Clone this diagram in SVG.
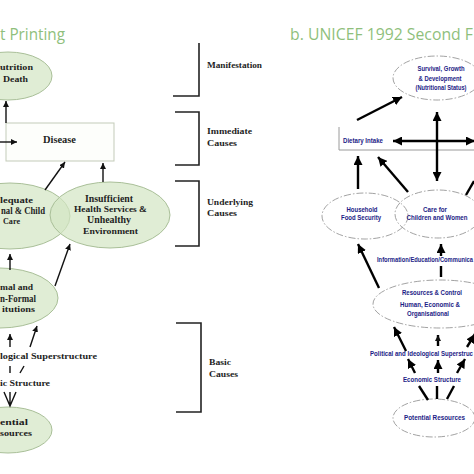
<svg xmlns="http://www.w3.org/2000/svg" width="474" height="474" viewBox="0 0 474 474">
<style>
.title{font-family:"Open Sans","Liberation Sans",sans-serif;font-size:16.5px;fill:#8fbf7c}
.ls{font-family:"Liberation Serif","DejaVu Serif",serif;font-weight:bold;fill:#1e1e1e}
.rs{font-family:"Liberation Sans","DejaVu Sans",sans-serif;font-weight:bold;fill:#1c1c86;font-size:6.5px}
.gel{fill:#d3e6c3;fill-opacity:0.7;stroke:#a9bf98;stroke-width:1}
.del{fill:none;stroke:#8a8a8a;stroke-width:0.8;stroke-dasharray:7 2 1.5 2}
.br{fill:none;stroke:#222;stroke-width:1.6}
.cl{stroke:#111;stroke-width:1.4;fill:none}
.cr{stroke:#000;stroke-width:2.4;fill:none}
</style>
<defs>
<marker id="al" markerUnits="userSpaceOnUse" markerWidth="6" markerHeight="6" refX="6" refY="3" orient="auto-start-reverse"><path d="M0,0 L6,3 L0,6 z" fill="#111"/></marker>
<marker id="ar" markerUnits="userSpaceOnUse" markerWidth="9" markerHeight="9" refX="9" refY="4.5" orient="auto-start-reverse"><path d="M0,0 L9,4.5 L0,9 z" fill="#000"/></marker>
</defs>
<rect width="474" height="474" fill="#fff"/>
<text class="title" x="0" y="40" textLength="65" lengthAdjust="spacingAndGlyphs">t Printing</text>
<text class="title" x="290" y="40" textLength="183" lengthAdjust="spacingAndGlyphs">b. UNICEF 1992 Second F</text>

<g id="left-nodes">
<g id="n-malnutrition"><ellipse class="gel" cx="8" cy="76" rx="44" ry="24"/>
<text class="ls" font-size="8.5" x="0" y="70" textLength="33" lengthAdjust="spacingAndGlyphs">utrition</text>
<text class="ls" font-size="8.5" x="3" y="82" textLength="25" lengthAdjust="spacingAndGlyphs">Death</text></g>
<g id="n-disease"><rect x="6" y="123" width="108" height="38" fill="#fdfefb" stroke="#c3cbb9" stroke-width="1"/>
<text class="ls" font-size="9.5" x="43" y="143" textLength="33" lengthAdjust="spacingAndGlyphs">Disease</text></g>
<g id="n-inadequate"><ellipse class="gel" cx="10" cy="216" rx="60" ry="33"/>
<text class="ls" font-size="8.5" x="0" y="203" textLength="33" lengthAdjust="spacingAndGlyphs">lequate</text>
<text class="ls" font-size="9.5" x="1" y="214" textLength="44" lengthAdjust="spacingAndGlyphs">nal &amp; Child</text>
<text class="ls" font-size="8.5" x="3" y="224" textLength="17" lengthAdjust="spacingAndGlyphs">Care</text></g>
<g id="n-insufficient"><ellipse class="gel" cx="110" cy="215" rx="60" ry="33"/>
<text class="ls" font-size="10.5" x="85" y="202" textLength="48" lengthAdjust="spacingAndGlyphs">Insufficient</text>
<text class="ls" font-size="8.5" x="74" y="212" textLength="73" lengthAdjust="spacingAndGlyphs">Health Services &amp;</text>
<text class="ls" font-size="9.5" x="87" y="223" textLength="44" lengthAdjust="spacingAndGlyphs">Unhealthy</text>
<text class="ls" font-size="8.5" x="83" y="234" textLength="55" lengthAdjust="spacingAndGlyphs">Environment</text></g>
<g id="n-institutions"><ellipse class="gel" cx="0" cy="298" rx="58" ry="30"/>
<text class="ls" font-size="8" x="0" y="290" textLength="33" lengthAdjust="spacingAndGlyphs">mal and</text>
<text class="ls" font-size="9.5" x="0" y="302" textLength="36" lengthAdjust="spacingAndGlyphs">n-Formal</text>
<text class="ls" font-size="8" x="2" y="312" textLength="33" lengthAdjust="spacingAndGlyphs">itutions</text></g>
<g id="n-ideological"><text class="ls" font-size="9" x="0" y="359" textLength="97" lengthAdjust="spacingAndGlyphs">logical Superstructure</text></g>
<g id="n-economic"><text class="ls" font-size="8.5" x="0" y="386" textLength="50" lengthAdjust="spacingAndGlyphs">ic Structure</text></g>
<g id="n-potential"><ellipse class="gel" cx="8" cy="430" rx="44" ry="23"/>
<text class="ls" font-size="8.5" x="0" y="425" textLength="28" lengthAdjust="spacingAndGlyphs">ential</text>
<text class="ls" font-size="8.5" x="0" y="436" textLength="32" lengthAdjust="spacingAndGlyphs">sources</text></g>
</g>

<g id="levels">
<path class="br" d="M199,43 V96 H173"/>
<text class="ls" font-size="8" x="207" y="68" textLength="55" lengthAdjust="spacingAndGlyphs">Manifestation</text>
<path class="br" d="M175,112 H199 V165 H175"/>
<text class="ls" font-size="8" x="207" y="134" textLength="45" lengthAdjust="spacingAndGlyphs">Immediate</text>
<text class="ls" font-size="8" x="207" y="146" textLength="30" lengthAdjust="spacingAndGlyphs">Causes</text>
<path class="br" d="M175,181 H199 V246 H175"/>
<text class="ls" font-size="8" x="207" y="205" textLength="46" lengthAdjust="spacingAndGlyphs">Underlying</text>
<text class="ls" font-size="8" x="207" y="216" textLength="30" lengthAdjust="spacingAndGlyphs">Causes</text>
<path class="br" d="M176,323 H201 V412 H176"/>
<text class="ls" font-size="8" x="209" y="365" textLength="22" lengthAdjust="spacingAndGlyphs">Basic</text>
<text class="ls" font-size="8" x="209" y="377" textLength="29" lengthAdjust="spacingAndGlyphs">Causes</text>
</g>

<g id="right-nodes">
<g id="n-survival"><ellipse class="del" cx="437" cy="78" rx="44" ry="22"/>
<text class="rs" x="441" y="71" text-anchor="middle" textLength="47" lengthAdjust="spacingAndGlyphs">Survival, Growth</text>
<text class="rs" x="440" y="81" text-anchor="middle" textLength="43" lengthAdjust="spacingAndGlyphs">&amp; Development</text>
<text class="rs" x="441" y="90" text-anchor="middle" textLength="51" lengthAdjust="spacingAndGlyphs">(Nutritional Status)</text></g>
<g id="n-dietary"><path d="M339,127 V150 H474" fill="none" stroke="#9a9a9a" stroke-width="1"/>
<text class="rs" x="343" y="143" textLength="40" lengthAdjust="spacingAndGlyphs">Dietary  Intake</text></g>
<g id="n-household"><ellipse class="del" cx="365" cy="216" rx="43" ry="23"/>
<text class="rs" x="362" y="212" text-anchor="middle" textLength="31" lengthAdjust="spacingAndGlyphs">Household</text>
<text class="rs" x="361" y="220" text-anchor="middle" textLength="40" lengthAdjust="spacingAndGlyphs">Food Security</text></g>
<g id="n-care"><ellipse class="del" cx="438" cy="214" rx="43" ry="24"/>
<text class="rs" x="435" y="212" text-anchor="middle" textLength="24" lengthAdjust="spacingAndGlyphs">Care for</text>
<text class="rs" x="437" y="220" text-anchor="middle" textLength="61" lengthAdjust="spacingAndGlyphs">Children and Women</text></g>
<g id="n-iec"><text class="rs" x="377" y="262" textLength="96" lengthAdjust="spacingAndGlyphs">Information/Education/Communica</text></g>
<g id="n-resources"><ellipse class="del" cx="440" cy="304" rx="67" ry="24"/>
<text class="rs" x="432" y="295" text-anchor="middle" textLength="60" lengthAdjust="spacingAndGlyphs">Resources &amp; Control</text>
<text class="rs" x="430" y="307" text-anchor="middle" textLength="60" lengthAdjust="spacingAndGlyphs">Human, Economic &amp;</text>
<text class="rs" x="428" y="316" text-anchor="middle" textLength="42" lengthAdjust="spacingAndGlyphs">Organisational</text></g>
<g id="n-political"><text class="rs" x="370" y="356" textLength="103" lengthAdjust="spacingAndGlyphs">Political and Ideological Superstruc</text></g>
<g id="n-econstruct"><text class="rs" x="403" y="382" textLength="58" lengthAdjust="spacingAndGlyphs">Economic Structure</text></g>
<g id="n-potres"><ellipse class="del" cx="434" cy="418" rx="41" ry="19"/>
<text class="rs" x="404" y="420" textLength="61" lengthAdjust="spacingAndGlyphs">Potential  Resources</text></g>
</g>

<g id="connectors">
<line class="cl" x1="6" y1="123" x2="6" y2="101" marker-end="url(#al)"/>
<line class="cl" x1="0" y1="142" x2="17" y2="142" marker-end="url(#al)"/>
<line class="cl" x1="45" y1="190" x2="65" y2="162" marker-end="url(#al)"/>
<line class="cl" x1="103" y1="182" x2="103" y2="163" marker-end="url(#al)"/>
<line class="cl" x1="10" y1="270" x2="10" y2="254" marker-end="url(#al)"/>
<line class="cl" x1="55" y1="286" x2="70" y2="244" marker-end="url(#al)"/>
<line class="cl" x1="10" y1="347" x2="10" y2="334" stroke-width="1" marker-end="url(#al)"/>
<line class="cl" x1="30" y1="347" x2="37" y2="326" marker-end="url(#al)"/>
<line class="cl" x1="10" y1="366" x2="10" y2="373" stroke-width="1"/>
<line class="cl" x1="20" y1="373" x2="24" y2="366" stroke-width="1.6"/>
<path class="cl" d="M4,392 L10,406 L16,392 M10,392 V406"/>

<line class="cr" x1="357" y1="120" x2="402" y2="97" marker-end="url(#ar)"/>
<line class="cr" x1="393" y1="141" x2="475" y2="141" marker-start="url(#ar)" marker-end="url(#ar)"/>
<line class="cr" x1="437" y1="112" x2="437" y2="181" marker-start="url(#ar)" marker-end="url(#ar)"/>
<line class="cr" x1="358" y1="189" x2="358" y2="156" marker-end="url(#ar)"/>
<line class="cr" x1="408" y1="192" x2="378" y2="157" marker-end="url(#ar)"/>
<line class="cr" x1="474" y1="181" x2="466" y2="195" stroke-width="2"/>
<line class="cr" x1="441" y1="256" x2="441" y2="244" marker-end="url(#ar)"/>
<line class="cr" x1="441" y1="266" x2="441" y2="277" stroke-width="2.6"/>
<line class="cr" x1="379" y1="288" x2="358" y2="244" marker-end="url(#ar)"/>
<line class="cr" x1="406" y1="351" x2="394" y2="327" marker-end="url(#ar)"/>
<line class="cr" x1="438" y1="346" x2="438" y2="335" stroke-width="1.6" marker-end="url(#al)"/>
<line class="cr" x1="467" y1="347" x2="475" y2="334" marker-end="url(#ar)"/>
<line class="cr" x1="415" y1="373" x2="408" y2="359" marker-end="url(#ar)"/>
<line class="cr" x1="438" y1="373" x2="438" y2="360" marker-end="url(#ar)"/>
<line class="cr" x1="457" y1="373" x2="465" y2="359" marker-end="url(#ar)"/>
<line class="cr" x1="428" y1="400" x2="419" y2="386"/>
<line class="cr" x1="437" y1="399" x2="437" y2="386"/>
<line class="cr" x1="447" y1="399" x2="454" y2="386"/>
</g>
</svg>
